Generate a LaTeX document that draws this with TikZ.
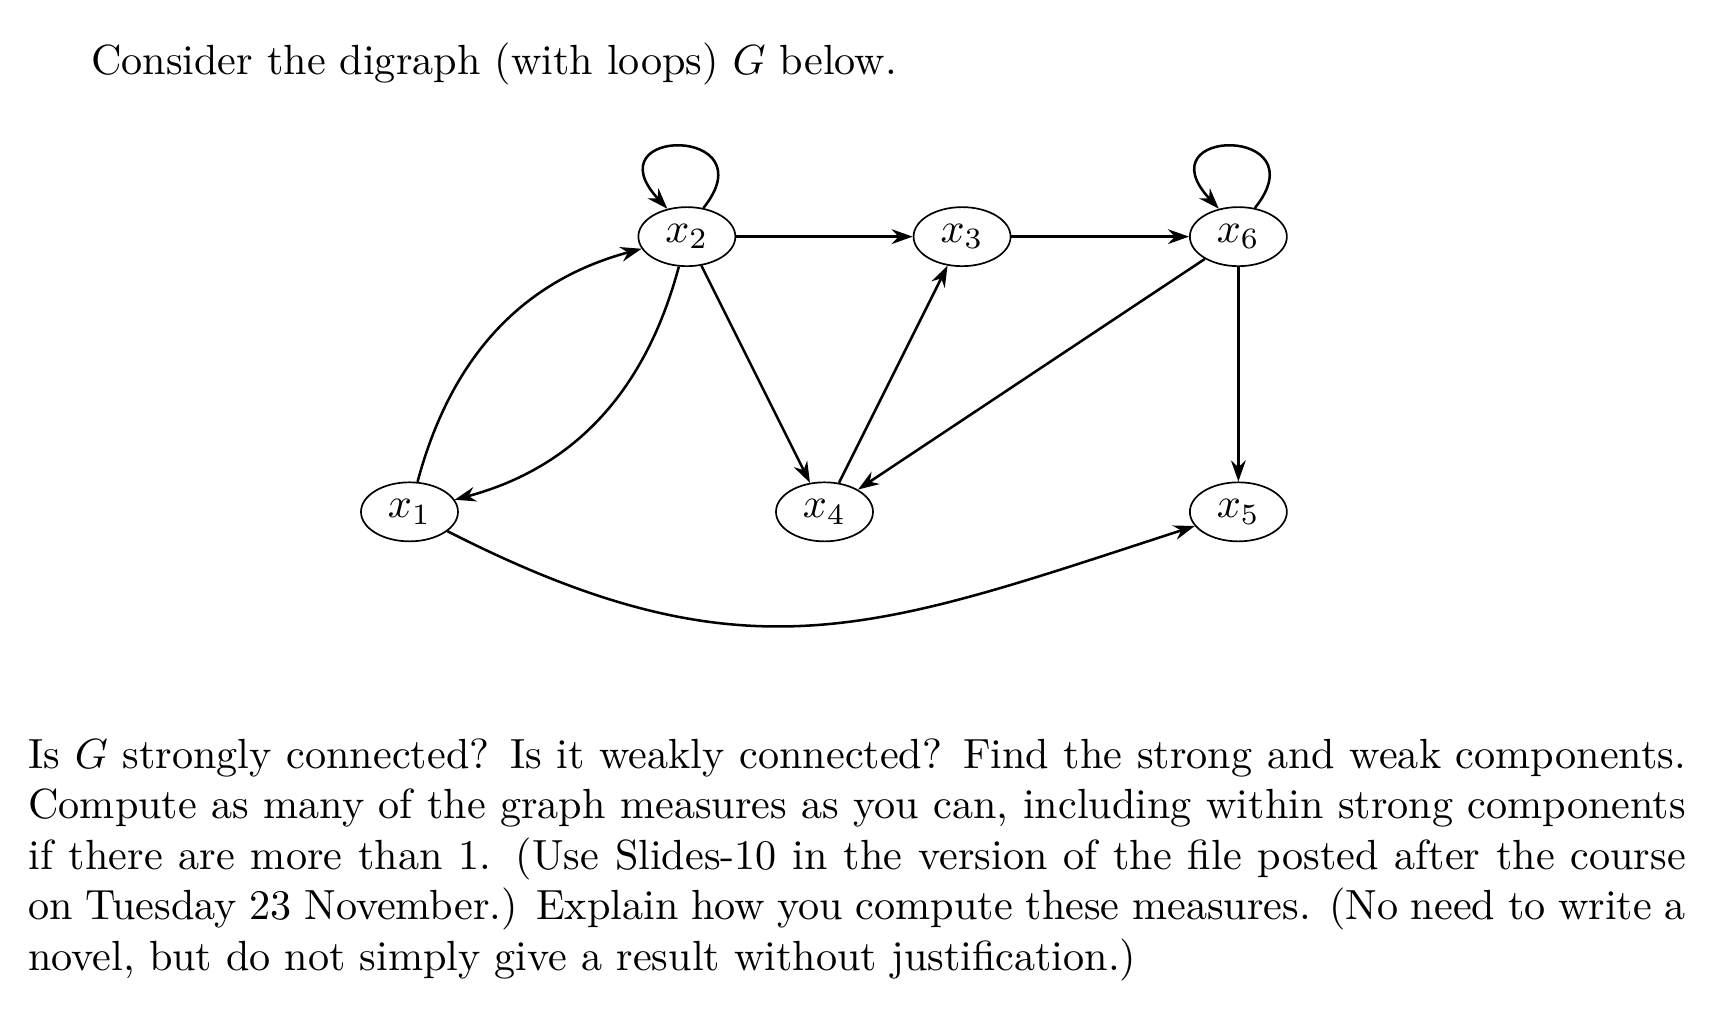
\documentclass[tikz,border=0pt]{standalone}
\usetikzlibrary{arrows.meta,shapes.geometric}
\begin{document}
\begin{tikzpicture}[x=0.261pt,y=-0.261pt,
  vtx/.style={draw,ellipse,minimum width=23pt,minimum height=14pt,inner sep=1pt},
  arr/.style={-{Stealth[length=5pt,width=3.5pt]},semithick}]
\useasboundingbox (0,0) rectangle (1568,925);
\node[anchor=base west,inner sep=0] (title) at (82,68) {Consider the digraph (with loops) $G$ below.};
\node[vtx] (x2) at (624,215) {$x_2$};
\node[vtx] (x3) at (874,215) {$x_3$};
\node[vtx] (x6) at (1125,215) {$x_6$};
\node[vtx] (x1) at (372,465) {$x_1$};
\node[vtx] (x4) at (749,465) {$x_4$};
\node[vtx] (x5) at (1125,465) {$x_5$};
\draw[arr] (x2.60) .. controls +(60,-75) and +(-70,-75) .. (x2.125);
\draw[arr] (x6.60) .. controls +(60,-75) and +(-70,-75) .. (x6.125);
\draw[arr] (x2) -- (x3);
\draw[arr] (x3) -- (x6);
\draw[arr] (x6) -- (x5);
\draw[arr] (x6) -- (x4);
\draw[arr] (x4) -- (x3);
\draw[arr] (x2) -- (x4);
\draw[arr] (x1) to[out=75,in=195] (x2);
\draw[arr] (x2) to[out=255,in=15] (x1);
\draw[arr] (x1) to[out=-27,in=198,looseness=1.15] (x5);
\node[anchor=north west,inner sep=0,text width=393pt,align=justify] (q) at (25,670)
{Is $G$ strongly connected? Is it weakly connected? Find the strong and weak components.
Compute as many of the graph measures as you can, including within strong components
if there are more than 1. (Use Slides-10 in the version of the file posted after the course
on Tuesday 23 November.) Explain how you compute these measures. (No need to write a\linebreak
novel, but do not simply give a result without justification.)};
\end{tikzpicture}
\end{document}
